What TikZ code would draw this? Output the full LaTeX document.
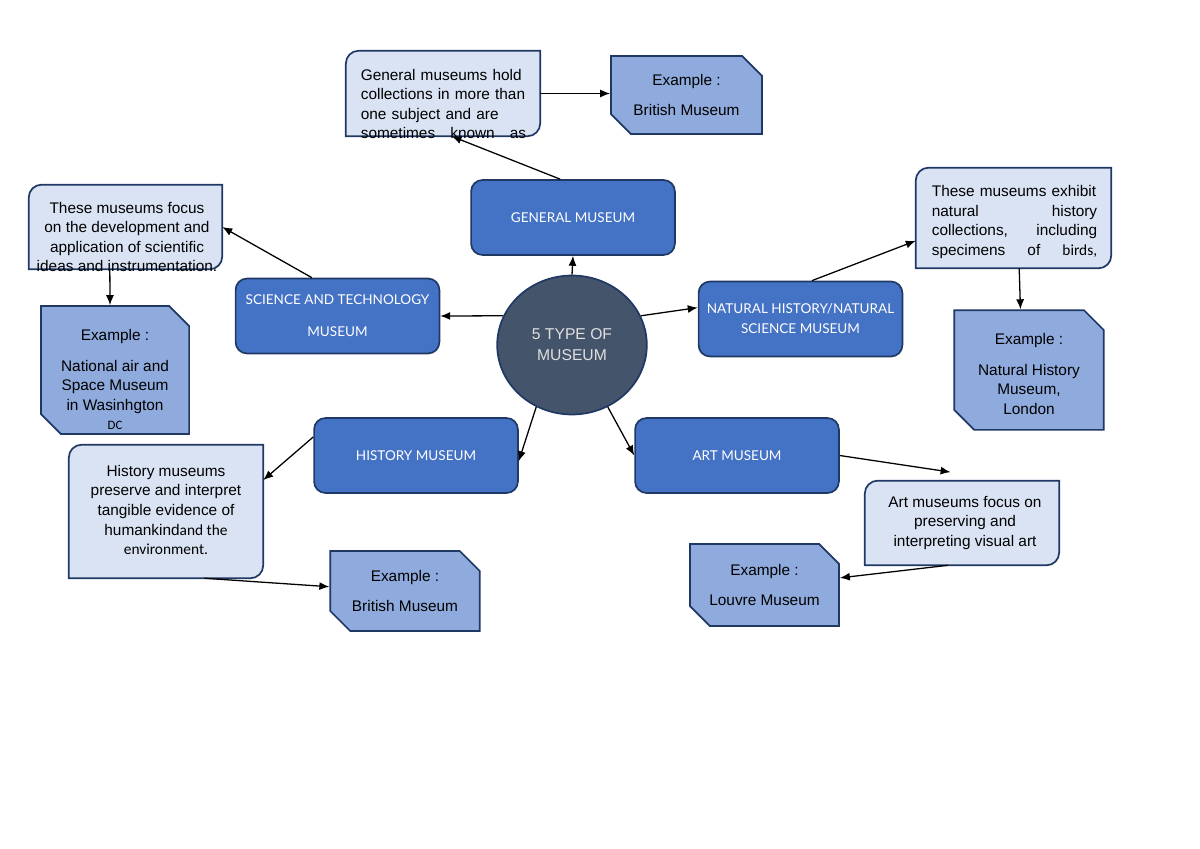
\documentclass[tikz,border=0pt]{standalone}
\usepackage{fontspec}
\setmainfont{Liberation Sans}
\newfontfamily\latofont{Lato}
\newfontfamily\carlitofont{Carlito}
\usepackage{tikz}
\usetikzlibrary{positioning, arrows.meta, shapes.geometric, shapes.misc}
\definecolor{edgeblue}{HTML}{203864}
\definecolor{mainblue}{HTML}{4472C4}
\definecolor{descfill}{HTML}{DAE3F3}
\definecolor{examplefill}{HTML}{8FAADC}
\definecolor{coregray}{HTML}{44546A}
\tikzset{
>={Latex[length=7pt, width=5.6pt]}, % filled arrow heads
link/.style={->, line width=0.9pt}, % connectors, drawn as edges
main/.style={draw=edgeblue, line width=1.2pt, fill=mainblue, rounded corners=8pt, minimum width=143pt, minimum height=52.6pt, text=white, align=center, font=\latofont\fontsize{9.5}{14}\selectfont}, % the five museum types
core/.style={ellipse, draw=edgeblue, line width=1.2pt, fill=coregray, minimum width=105pt, minimum height=97.5pt, inner sep=0pt, text=white!88!black, align=center, font=\fontsize{11}{14.7}\selectfont}, % centre of the map
example/.style={chamfered rectangle, chamfered rectangle corners={north east, south west}, chamfered rectangle sep=7pt, draw=edgeblue, line width=1.2pt, fill=examplefill, inner sep=0pt, align=center, font=\fontsize{10.8}{13.7}\selectfont}, % example boxes
descbox/.style={inner sep=0pt, append after command={\pgfextra{\draw[line width=1.2pt, draw=edgeblue, fill=descfill] (\tikzlastnode.south west) -- ([yshift=-9pt]\tikzlastnode.north west) arc[start angle=180, end angle=90, radius=9pt] -- (\tikzlastnode.north east) -- ([yshift=9pt]\tikzlastnode.south east) arc[start angle=0, end angle=-90, radius=9pt] -- cycle;}}}, % box with two round corners
desctext/.style={inner sep=0pt, font=\fontsize{10.8}{13.7}\selectfont}, % text set over the box
}

\begin{document}
\begin{tikzpicture}[x=0.7017pt, y=-0.7017pt]
        \useasboundingbox (0,0) rectangle (1200,849);

        \node[main] (gen) at (573,217.5) {GENERAL MUSEUM};
        \node[main] (sci) at (337.5,316) {SCIENCE AND TECHNOLOGY\\[8.5pt]MUSEUM};
        \node[main] (nat) at (800.5,319) {NATURAL HISTORY/NATURAL\\SCIENCE MUSEUM};
        \node[main] (hist) at (416,455.5) {HISTORY MUSEUM};
        \node[main] (art) at (737,455.5) {ART MUSEUM};
        \node[core] (core) at (572,345) {5 TYPE OF\\MUSEUM};

        \node[descbox, minimum width=136pt, minimum height=59.6pt] (gendesc) at (443,93.5) {};
        \node[descbox, minimum width=135.4pt, minimum height=59pt] (scidesc) at (125.5,227) {};
        \node[descbox, minimum width=136.8pt, minimum height=70.2pt] (natdesc) at (1013.5,218) {};
        \node[descbox, minimum width=136pt, minimum height=93.3pt] (histdesc) at (166,511.5) {};
        \node[descbox, minimum width=136pt, minimum height=59pt] (artdesc) at (962,523) {};

        \node[desctext, text width=116pt, align=left] (gentext) at (443.5,104) {General museums hold\\collections in more than\\one subject and are\\sometimes\hfill known\hfill as};
        \node[desctext, align=center] (scitext) at (127,237) {These museums focus\\on the development and\\application of scientific\\ideas and instrumentation.};
        \node[desctext, text width=116pt, align=left] (nattext) at (1014.5,222) {These museums exhibit\\natural\hfill history\\collections,\hfill including\\specimens\hfill of\hfill {\carlitofont birds,}};
        \node[desctext, align=center] (histtext) at (166,510) {History museums\\preserve and interpret\\tangible evidence of\\humankind{\carlitofont and the}\\{\carlitofont environment.}};
        \node[desctext, align=center] (arttext) at (965,523) {Art museums focus on\\preserving and\\interpreting visual art};

        \node[example, minimum width=106pt, minimum height=54.7pt] (genex) at (686.5,95) {Example :\\[8pt]British Museum};
        \node[example, inner ysep=-7pt, minimum width=104pt, minimum height=89.8pt] (sciex) at (115,370) {\rule{0pt}{21pt}Example :\\[8pt]National air and\\Space Museum\\in Wasinhgton\\{\carlitofont\fontsize{9}{12}\selectfont DC}};
        \node[example, minimum width=105pt, minimum height=84pt] (natex) at (1029,370) {\rule{0pt}{13pt}Example :\\[8pt]Natural History\\Museum,\\London};
        \node[example, minimum width=105pt, minimum height=56pt] (histex) at (405,591) {Example :\\[8pt]British Museum};
        \node[example, minimum width=104.6pt, minimum height=57.5pt] (artex) at (764.5,585) {Example :\\[8pt]Louvre Museum};

        \path[link] (core.north) edge (gen.south)
        (core.157) edge (sci.east)
        (core.23) edge ([yshift=8pt]nat.west)
        (core.240) edge ([yshift=-4pt]hist.east)
        (core.300) edge (art.west)
        ([xshift=-9pt]gen.north) edge ([xshift=6pt]gendesc.south)
        (gendesc.east) edge (gendesc.east -| genex.west)
        ([xshift=-18pt]sci.north) edge (scidesc.east)
        ([xshift=-11pt]scidesc.south) edge ([xshift=-3.5pt]sciex.north)
        ([xshift=8pt]nat.north) edge ([yshift=-16pt]natdesc.west)
        ([xshift=4pt]natdesc.south) edge ([xshift=-6pt]natex.north)
        ([yshift=13pt]hist.west) edge ([yshift=22pt]histdesc.east)
        ([xshift=27pt]histdesc.south) edge ([yshift=3pt]histex.west)
        (art.east) edge ([xshift=-8pt, yshift=6pt]artdesc.north)
        ([xshift=-10pt]artdesc.south) edge ([yshift=5pt]artex.east);
      \end{tikzpicture}
\end{document}
